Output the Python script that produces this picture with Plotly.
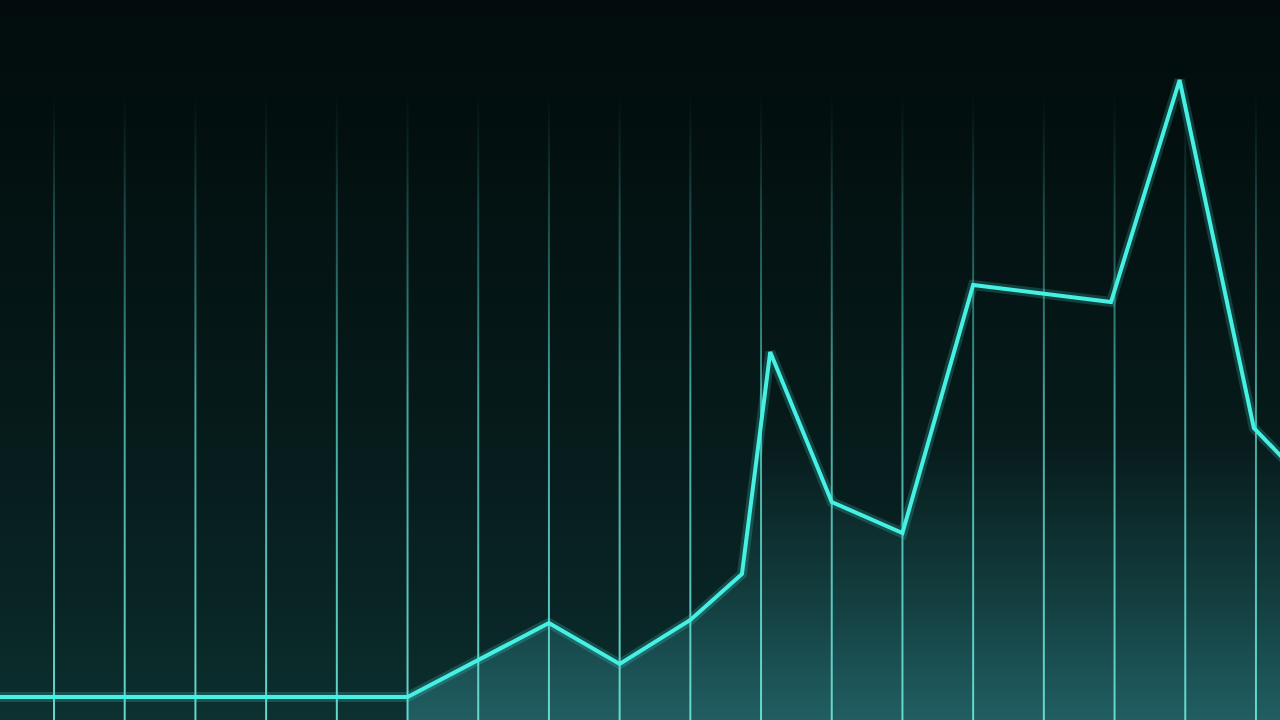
import plotly.graph_objects as go

# vertical grid positions (category index) and the line series
grid_x = list(range(18))
line_x = [-1, 5, 7, 8, 9, 9.73, 10.13, 11, 12, 13, 14.95, 15.92, 16.97, 17.6]
line_y = [23, 23, 97, 56, 100, 146, 368, 218, 187, 435, 418, 640, 292, 246]
FILL_FROM = 1  # the shaded area starts where the line starts rising

X_RANGE = [-0.764, 17.34]
Y_RANGE = [0, 720]
GRID_W = 0.028

fig = go.Figure()

# background vertical gradient
fig.add_trace(go.Scatter(
    x=[X_RANGE[0] - 1, X_RANGE[1] + 1], y=[Y_RANGE[1], Y_RANGE[1]],
    mode="none", fill="tozeroy", hoverinfo="skip", showlegend=False,
    fillgradient=dict(type="vertical", start=Y_RANGE[0], stop=Y_RANGE[1],
                      colorscale=[[0, "#0d3030"], [0.167, "#092424"],
                                  [0.444, "#061919"], [0.8, "#031010"],
                                  [1, "#020c0c"]]),
))

# fill under the line
fig.add_trace(go.Scatter(
    x=line_x[FILL_FROM:], y=line_y[FILL_FROM:], mode="none", fill="tozeroy",
    hoverinfo="skip", showlegend=False,
    fillgradient=dict(type="vertical", start=Y_RANGE[0], stop=Y_RANGE[1],
                      colorscale=[[0, "#205e62"], [0.097, "#194c4f"],
                                  [0.167, "#133e3f"], [0.278, "#0d2c2d"],
                                  [0.375, "#081c1d"], [0.47, "rgba(6,24,24,0)"],
                                  [1, "rgba(6,24,24,0)"]]),
))

# fading vertical grid lines
for gx in grid_x:
    fig.add_trace(go.Scatter(
        x=[gx - GRID_W / 2, gx + GRID_W / 2, gx + GRID_W / 2, gx - GRID_W / 2, gx - GRID_W / 2],
        y=[Y_RANGE[0], Y_RANGE[0], Y_RANGE[1], Y_RANGE[1], Y_RANGE[0]],
        mode="none", fill="toself", hoverinfo="skip", showlegend=False,
        fillgradient=dict(type="vertical", start=Y_RANGE[0], stop=Y_RANGE[1],
                          colorscale=[[0, "rgba(105,225,214,0.95)"],
                                      [0.45, "rgba(88,208,198,0.75)"],
                                      [0.72, "rgba(62,172,166,0.34)"],
                                      [0.87, "rgba(40,120,120,0.0)"],
                                      [1, "rgba(40,120,120,0.0)"]]),
    ))

# glow + main line
fig.add_trace(go.Scatter(
    x=line_x, y=line_y, mode="lines", hoverinfo="skip", showlegend=False,
    line=dict(color="rgba(64,235,222,0.2)", width=10),
))
fig.add_trace(go.Scatter(
    x=line_x, y=line_y, mode="lines", hoverinfo="skip", showlegend=False,
    line=dict(color="#46f0e2", width=4),
))

fig.update_layout(
    width=1280, height=720,
    margin=dict(l=0, r=0, t=0, b=0),
    paper_bgcolor="#020c0c", plot_bgcolor="#020c0c",
    xaxis=dict(range=X_RANGE, visible=False, fixedrange=True),
    yaxis=dict(range=Y_RANGE, visible=False, fixedrange=True),
    showlegend=False,
)

fig.write_html(
    "out.html",
    config={"displayModeBar": False, "staticPlot": True},
    post_script="document.body.style.margin='0';document.body.style.overflow='hidden';",
)
